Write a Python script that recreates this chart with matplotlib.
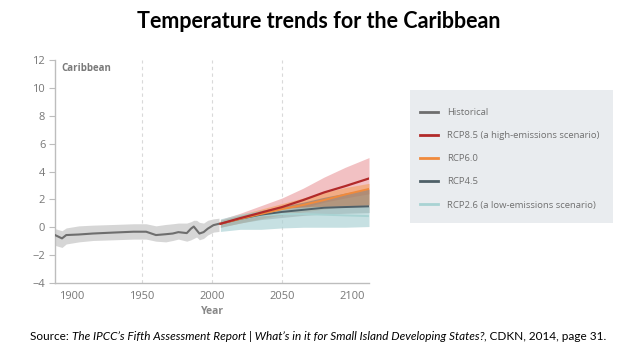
import numpy as np
import matplotlib
matplotlib.use('Agg')
import matplotlib.pyplot as plt
from matplotlib.patches import Rectangle

# historical series
hist_years = [1888, 1893, 1896, 1905, 1915, 1930, 1944, 1953, 1960, 1967, 1972, 1976, 1982, 1985, 1987, 1989, 1991, 1994, 1997, 2001, 2005]
hist_mean = [-0.56, -0.8, -0.56, -0.52, -0.45, -0.38, -0.32, -0.32, -0.56, -0.5, -0.45, -0.35, -0.42, -0.1, 0.05, -0.2, -0.45, -0.35, -0.1, 0.15, 0.25]
hist_low = [-1.3, -1.45, -1.2, -1.05, -0.95, -0.9, -0.85, -0.85, -1.0, -1.05, -0.95, -0.85, -1.0, -0.9, -0.8, -0.7, -0.9, -0.8, -0.55, -0.35, -0.3]
hist_high = [-0.1, -0.25, -0.05, 0.1, 0.15, 0.2, 0.25, 0.25, 0.1, 0.2, 0.25, 0.3, 0.3, 0.4, 0.5, 0.5, 0.35, 0.3, 0.5, 0.6, 0.65]

# projections
proj_years = [2006, 2020, 2035, 2050, 2065, 2080, 2095, 2112]
rcp85 = [0.25, 0.65, 1.05, 1.45, 1.95, 2.5, 2.95, 3.5]
rcp85_low = [0.0, 0.3, 0.65, 1.0, 1.4, 1.8, 2.1, 2.4]
rcp85_high = [0.55, 1.0, 1.55, 2.1, 2.8, 3.6, 4.3, 5.0]
rcp60 = [0.25, 0.6, 0.95, 1.3, 1.6, 1.95, 2.35, 2.75]
rcp60_low = [0.0, 0.3, 0.6, 0.9, 1.1, 1.3, 1.5, 1.6]
rcp60_high = [0.5, 0.9, 1.3, 1.7, 2.1, 2.5, 2.85, 3.15]
rcp45 = [0.25, 0.6, 0.9, 1.1, 1.25, 1.4, 1.45, 1.5]
rcp45_low = [0.0, 0.3, 0.55, 0.7, 0.85, 0.95, 1.0, 1.05]
rcp45_high = [0.5, 0.85, 1.2, 1.5, 1.8, 2.15, 2.45, 2.75]
rcp26 = [0.25, 0.6, 0.85, 0.95, 0.95, 0.9, 0.85, 0.8]
rcp26_low = [-0.3, -0.15, -0.15, -0.05, 0.0, 0.0, 0.0, 0.05]
rcp26_high = [0.6, 0.95, 1.2, 1.35, 1.45, 1.5, 1.5, 1.5]

x_ticks = [1900, 1950, 2000, 2050, 2100]
y_ticks = [-4, -2, 0, 2, 4, 6, 8, 10, 12]
legend_labels = ['Historical', 'RCP8.5 (a high-emissions scenario)', 'RCP6.0', 'RCP4.5', 'RCP2.6 (a low-emissions scenario)']

plt.rcParams['font.family'] = ['Open Sans', 'DejaVu Sans']

fig = plt.figure(figsize=(6.38, 3.59), dpi=100)
ax = fig.add_axes([55/638, 1 - 283/359, 314/638, 223/359])

gridc = '#d9d9d9'
for yr in [1950, 2000, 2050]:
    ax.axvline(yr, color=gridc, linestyle=(0, (3, 3)), linewidth=0.8, zorder=0)

ax.fill_between(hist_years, hist_low, hist_high, color='#d6d6d6', linewidth=0, zorder=1)
ax.plot(hist_years, hist_mean, color='#6e6e6e', linewidth=1.5, zorder=5)

ax.fill_between(proj_years, rcp85_low, rcp85_high, color='#f0b6b9', linewidth=0, alpha=0.85, zorder=1)
ax.fill_between(proj_years, rcp60_low, rcp60_high, color='#f3a46a', linewidth=0, alpha=0.7, zorder=2)
ax.fill_between(proj_years, rcp45_low, rcp45_high, color='#6f6e68', linewidth=0, alpha=0.5, zorder=3)
ax.fill_between(proj_years, rcp26_low, rcp26_high, color='#a8d0d3', linewidth=0, alpha=0.65, zorder=3)

ax.plot(proj_years, rcp26, color='#a9d3d3', linewidth=1.4, zorder=5)
ax.plot(proj_years, rcp45, color='#4f6068', linewidth=1.4, zorder=5)
ax.plot(proj_years, rcp60, color='#f08a3c', linewidth=1.4, zorder=5)
ax.plot(proj_years, rcp85, color='#b22a2a', linewidth=1.6, zorder=6)

ax.set_xlim(1888, 2112)
ax.set_ylim(-4, 12)
ax.set_xticks(x_ticks)
ax.set_yticks(y_ticks)
for s in ['top', 'right']:
    ax.spines[s].set_visible(False)
for s in ['left', 'bottom']:
    ax.spines[s].set_color('#bdbdbd')
    ax.spines[s].set_linewidth(1.0)
ax.tick_params(axis='x', length=0, labelsize=8, colors='#777777', pad=6)
ax.tick_params(axis='y', direction='out', length=4, color='#bdbdbd', labelsize=8, labelcolor='#777777', pad=3)
ax.set_xlabel('Year', fontsize=7.5, color='#888888', fontweight='bold', labelpad=3)
ax.text(0.02, 0.985, 'Caribbean', transform=ax.transAxes, fontsize=7, fontweight='bold',
        color='#7a7a7a', va='top', ha='left')

# legend background box
fig.patches.append(Rectangle((410/638, 1 - 223/359), 203/638, 133/359, transform=fig.transFigure,
                             facecolor='#e9ecef', edgecolor='none', zorder=0))
colors = ['#6e6e6e', '#b22a2a', '#f08a3c', '#4f6068', '#a9d3d3']
handles = [plt.Line2D([], [], color=c, linewidth=2) for c in colors]
leg = fig.legend(handles, legend_labels, loc='upper left',
                 bbox_to_anchor=(420/638, 1 - 108/359), frameon=False,
                 fontsize=6.8, labelcolor='#707070', handlelength=1.9, handletextpad=1.0,
                 labelspacing=1.5, borderpad=0, borderaxespad=0)

fig.text(0.5, 1 - 22/359, 'Temperature trends for the Caribbean', ha='center', va='center',
         fontsize=15.5, fontweight='bold', family=['Lato', 'DejaVu Sans'], color='black')

# source line with mixed italics
pieces = [('Source: ', 'normal'),
          ("The IPCC\u2019s Fifth Assessment Report | What\u2019s in it for Small Island Developing States?", 'italic'),
          (', CDKN, 2014, page 31.', 'normal')]
fig.canvas.draw()
renderer = fig.canvas.get_renderer()
x = 30
for txt, style in pieces:
    t = fig.text(x / 638, 1 - 337/359, txt, fontsize=8.5, style=style, va='center', ha='left',
                 family=['Lato', 'DejaVu Sans'], color='black')
    bb = t.get_window_extent(renderer)
    x = bb.x1

fig.savefig('out.png', dpi=100)
